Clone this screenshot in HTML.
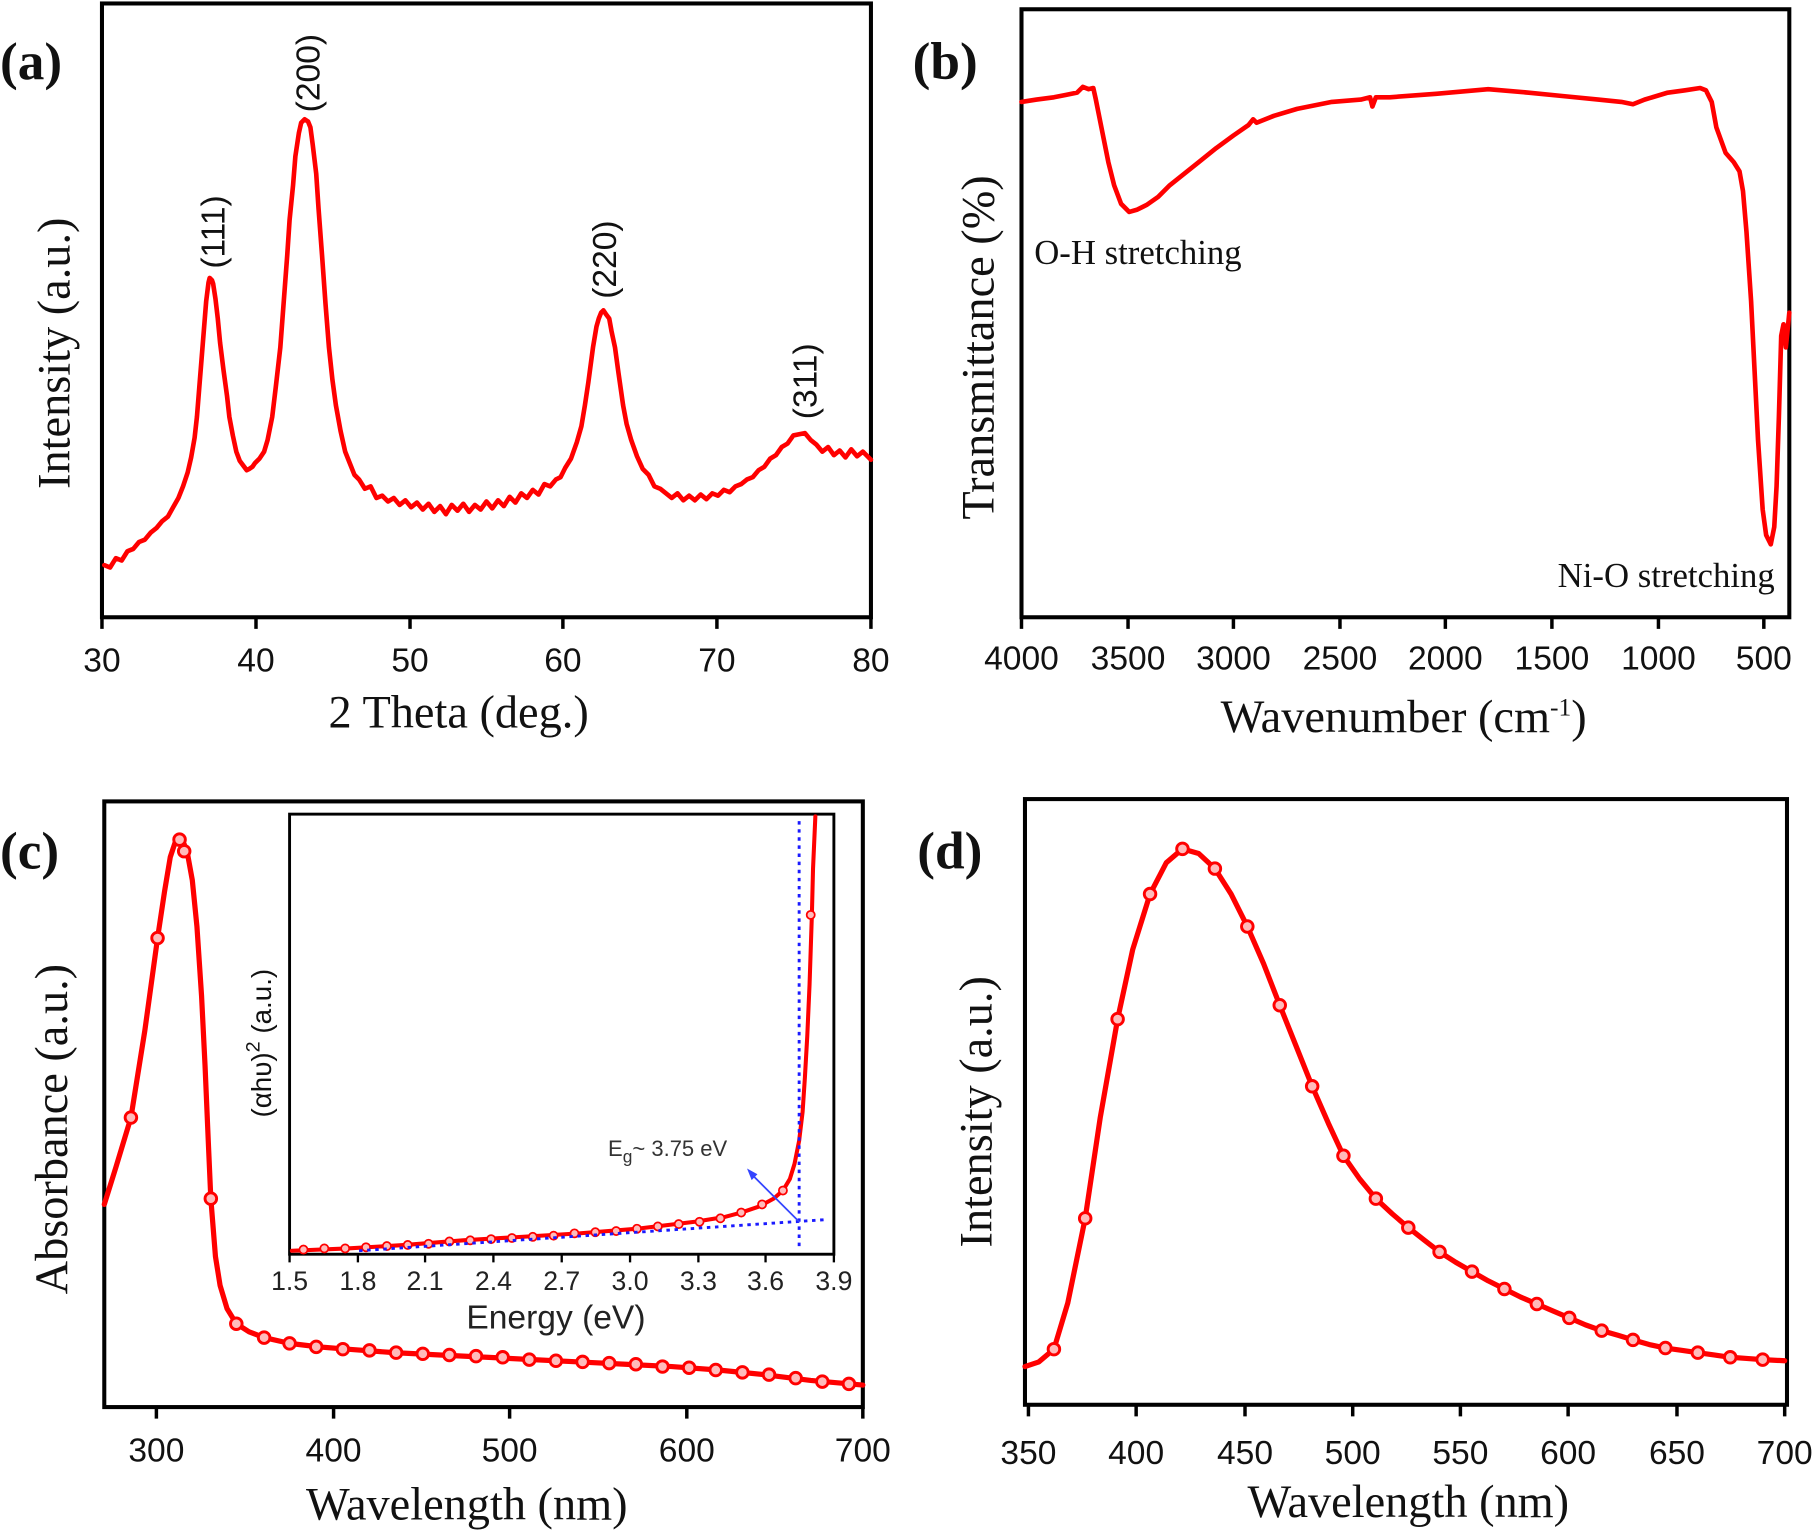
<!DOCTYPE html>
<html><head><meta charset="utf-8"><style>html,body{margin:0;padding:0;background:#fff}svg{display:block}</style></head>
<body>
<svg width="1816" height="1531" viewBox="0 0 1568 1322" xmlns="http://www.w3.org/2000/svg" font-family="Liberation Sans, sans-serif">
<g fill="none" stroke="#000" stroke-width="3.5">
<rect x="88" y="3" width="664" height="530"/>
<rect x="882" y="8" width="663" height="525"/>
<rect x="90" y="692" width="655" height="523"/>
<rect x="885" y="690" width="658" height="523"/>
<rect x="250" y="703" width="470" height="380" stroke-width="2.5"/>
</g>
<path stroke="#000" stroke-width="3" d="M88,533v10M221,533v10M354,533v10M486,533v10M619,533v10M752,533v10
M882,533v10M974,533v10M1065,533v10M1157,533v10M1248,533v10M1340,533v10M1432,533v10M1523,533v10
M135,1215v10M288,1215v10M440,1215v10M593,1215v10M745,1215v10
M888,1213v10M981,1213v10M1075,1213v10M1168,1213v10M1261,1213v10M1354,1213v10M1448,1213v10M1541,1213v10"/>
<path stroke="#000" stroke-width="2" d="M250,1083v7M309,1083v7M367,1083v7M426,1083v7M485,1083v7M544,1083v7M603,1083v7M661,1083v7M720,1083v7"/>
<g font-size="29" fill="#111" text-anchor="middle">
<text x="88" y="580">30</text><text x="221" y="580">40</text><text x="354" y="580">50</text><text x="486" y="580">60</text><text x="619" y="580">70</text><text x="752" y="580">80</text>
<text x="882" y="578">4000</text><text x="974" y="578">3500</text><text x="1065" y="578">3000</text><text x="1157" y="578">2500</text><text x="1248" y="578">2000</text><text x="1340" y="578">1500</text><text x="1432" y="578">1000</text><text x="1523" y="578">500</text>
<text x="135" y="1262">300</text><text x="288" y="1262">400</text><text x="440" y="1262">500</text><text x="593" y="1262">600</text><text x="745" y="1262">700</text>
<text x="888" y="1264">350</text><text x="981" y="1264">400</text><text x="1075" y="1264">450</text><text x="1168" y="1264">500</text><text x="1261" y="1264">550</text><text x="1354" y="1264">600</text><text x="1448" y="1264">650</text><text x="1541" y="1264">700</text>
</g>
<g font-size="23" fill="#222" text-anchor="middle">
<text x="250" y="1114">1.5</text><text x="309" y="1114">1.8</text><text x="367" y="1114">2.1</text><text x="426" y="1114">2.4</text><text x="485" y="1114">2.7</text><text x="544" y="1114">3.0</text><text x="603" y="1114">3.3</text><text x="661" y="1114">3.6</text><text x="720" y="1114">3.9</text>
<text x="480" y="1147" font-size="29">Energy (eV)</text>
</g>
<g font-family="Liberation Serif, serif" fill="#111" font-size="40">
<text x="0" y="68" font-weight="bold" font-size="46">(a)</text>
<text x="788" y="68" font-weight="bold" font-size="46">(b)</text>
<text x="0" y="750" font-weight="bold" font-size="46">(c)</text>
<text x="792" y="750" font-weight="bold" font-size="46">(d)</text>
<text x="396" y="628" text-anchor="middle">2 Theta (deg.)</text>
<text x="1212" y="632" text-anchor="middle">Wavenumber (cm<tspan dy="-14" font-size="22">-1</tspan><tspan dy="14">)</tspan></text>
<text x="403" y="1312" text-anchor="middle">Wavelength (nm)</text>
<text x="1216" y="1310" text-anchor="middle">Wavelength (nm)</text>
<text transform="translate(60,305) rotate(-90)" text-anchor="middle">Intensity (a.u.)</text>
<text transform="translate(858,300) rotate(-90)" text-anchor="middle">Transmittance (%)</text>
<text transform="translate(58,975) rotate(-90)" text-anchor="middle">Absorbance (a.u.)</text>
<text transform="translate(856,960) rotate(-90)" text-anchor="middle">Intensity (a.u.)</text>
<text x="893" y="228" font-size="30">O-H stretching</text>
<text x="1345" y="507" font-size="30">Ni-O stretching</text>
</g>
<g font-size="29" fill="#111">
<text transform="translate(194,232) rotate(-90)">(111)</text>
<text transform="translate(276,97) rotate(-90)">(200)</text>
<text transform="translate(532,258) rotate(-90)">(220)</text>
<text transform="translate(705,362) rotate(-90)">(311)</text>
<text transform="translate(234,965) rotate(-90)" font-size="24">(αhυ)<tspan dy="-10" font-size="17">2</tspan><tspan dy="10"> (a.u.)</tspan></text>
<text x="525" y="998" font-size="19" fill="#333">E<tspan dy="6" font-size="15">g</tspan><tspan dy="-6">~ 3.75 eV</tspan></text>
</g>
<g fill="none" stroke="#f00" stroke-width="4" stroke-linejoin="round" stroke-linecap="round">
<polyline points="90,488 95,490 100,482 105,484 110,476 115,474 120,468 125,466 130,460 135,456 140,450 145,446 150,437 154,430 158,420 162,408 165,395 168,378 170,360 172,335 174,310 176,285 178,260 180,244 181,240 183,242 184,245 186,258 188,275 190,296 193,320 196,342 198,360 201,376 204,390 207,398 210,402 213,406 215,405 218,403 220,400 224,396 228,390 231,380 235,360 238,335 242,300 245,260 248,220 250,190 253,160 255,135 258,115 260,106 263,103 266,105 268,110 270,125 273,150 275,180 278,220 281,262 284,300 287,328 290,350 294,372 298,390 302,400 306,410 310,414 315,422 320,420 325,430 330,428 335,433 340,430 345,436 350,432 355,438 360,434 365,440 370,435 375,442 380,437 385,444 390,436 395,441 400,435 405,442 410,436 415,440 420,433 425,439 430,432 435,437 440,429 445,434 450,426 455,430 460,423 465,427 470,418 475,420 480,414 484,412 488,404 493,396 498,382 502,368 505,350 508,330 512,300 515,282 517,275 519,270 521,268 523,271 526,275 528,286 531,300 534,322 538,350 541,366 545,380 550,394 555,405 560,410 565,420 570,422 575,426 580,430 585,426 590,432 595,428 600,432 605,427 610,431 615,426 620,428 625,423 630,425 635,420 640,418 645,414 650,412 655,406 660,403 665,396 670,393 675,386 680,383 685,376 690,375 695,374 700,380 705,384 710,390 715,386 720,393 725,389 730,395 735,388 740,394 745,390 752,397"/>
<polyline points="882,88 895,86 910,84 920,82 930,80 935,75 940,77 944,76 946,85 949,100 952,115 957,140 962,160 968,176 975,183 982,181 990,177 1000,170 1010,160 1020,152 1035,140 1050,128 1065,117 1078,108 1082,103 1085,106 1100,100 1120,94 1150,88 1175,86 1183,84 1185,92 1188,84 1200,84 1240,81 1285,77 1320,80 1350,83 1380,86 1400,88 1410,90 1420,86 1440,80 1455,78 1468,76 1473,78 1478,88 1482,110 1490,132 1497,140 1502,148 1505,165 1508,200 1512,260 1515,320 1518,380 1522,440 1525,462 1529,470 1532,455 1534,420 1536,360 1538,290 1540,280 1542,300 1545,270"/>
<polyline stroke-width="4.5" points="90,1040 100,1008 113,965 125,890 136,810 142,770 147,740 151,728 155,725 159,729 162,738 166,760 170,800 174,860 177,920 180,990 182,1035 186,1085 190,1110 196,1130 204,1143 215,1150 228,1155 250,1160 275,1163 300,1165 340,1168 380,1170 420,1172 460,1174 500,1176 540,1178 580,1180 620,1183 660,1187 700,1192 745,1196"/>
<polyline stroke-width="3.5" points="252,1080 300,1078 350,1075 400,1071 450,1068 500,1065 550,1061 600,1055 625,1051 640,1047 655,1042 668,1035 676,1028 682,1018 686,1005 690,985 693,960 695,930 697,895 699,850 700,820 701,790 702,750 704,705"/>
<polyline stroke-width="4.5" points="885,1180 897,1176 910,1165 922,1125 937,1052 950,965 965,880 978,820 993,772 1007,745 1021,733 1035,737 1049,750 1063,772 1077,800 1091,832 1105,868 1119,903 1133,938 1147,970 1160,998 1174,1018 1188,1035 1202,1048 1216,1060 1230,1071 1243,1081 1257,1090 1271,1098 1285,1106 1299,1113 1313,1120 1327,1126 1341,1132 1355,1138 1369,1144 1383,1149 1397,1153 1410,1157 1424,1161 1438,1164 1452,1166 1466,1168 1480,1170 1494,1172 1508,1173 1522,1174 1541,1175"/>
</g>
<g fill="#fbb" stroke="#f00" stroke-width="2.5">
<circle cx="113" cy="965" r="5"/><circle cx="136" cy="810" r="5"/><circle cx="155" cy="725" r="5"/><circle cx="159" cy="735" r="5"/><circle cx="182" cy="1035" r="5"/><circle cx="204" cy="1143" r="5"/><circle cx="228" cy="1155" r="5"/><circle cx="250" cy="1160" r="5"/><circle cx="273" cy="1163" r="5"/><circle cx="296" cy="1165" r="5"/><circle cx="319" cy="1166" r="5"/><circle cx="342" cy="1168" r="5"/><circle cx="365" cy="1169" r="5"/><circle cx="388" cy="1170" r="5"/><circle cx="411" cy="1171" r="5"/><circle cx="434" cy="1172" r="5"/><circle cx="457" cy="1174" r="5"/><circle cx="480" cy="1175" r="5"/><circle cx="503" cy="1176" r="5"/><circle cx="526" cy="1177" r="5"/><circle cx="549" cy="1178" r="5"/><circle cx="572" cy="1180" r="5"/><circle cx="595" cy="1181" r="5"/><circle cx="618" cy="1183" r="5"/><circle cx="641" cy="1185" r="5"/><circle cx="664" cy="1187" r="5"/><circle cx="687" cy="1190" r="5"/><circle cx="710" cy="1193" r="5"/><circle cx="733" cy="1195" r="5"/>
<circle cx="910" cy="1165" r="5"/><circle cx="937" cy="1052" r="5"/><circle cx="965" cy="880" r="5"/><circle cx="993" cy="772" r="5"/><circle cx="1021" cy="733" r="5"/><circle cx="1049" cy="750" r="5"/><circle cx="1077" cy="800" r="5"/><circle cx="1105" cy="868" r="5"/><circle cx="1133" cy="938" r="5"/><circle cx="1160" cy="998" r="5"/><circle cx="1188" cy="1035" r="5"/><circle cx="1216" cy="1060" r="5"/><circle cx="1243" cy="1081" r="5"/><circle cx="1271" cy="1098" r="5"/><circle cx="1299" cy="1113" r="5"/><circle cx="1327" cy="1126" r="5"/><circle cx="1355" cy="1138" r="5"/><circle cx="1383" cy="1149" r="5"/><circle cx="1410" cy="1157" r="5"/><circle cx="1438" cy="1164" r="5"/><circle cx="1466" cy="1168" r="5"/><circle cx="1494" cy="1172" r="5"/><circle cx="1522" cy="1174" r="5"/>
</g>
<g fill="#fbb" stroke="#f00" stroke-width="1.5">
<circle cx="262" cy="1079" r="3.5"/><circle cx="280" cy="1078" r="3.5"/><circle cx="298" cy="1078" r="3.5"/><circle cx="316" cy="1077" r="3.5"/><circle cx="334" cy="1076" r="3.5"/><circle cx="352" cy="1075" r="3.5"/><circle cx="370" cy="1074" r="3.5"/><circle cx="388" cy="1072" r="3.5"/><circle cx="406" cy="1071" r="3.5"/><circle cx="424" cy="1070" r="3.5"/><circle cx="442" cy="1069" r="3.5"/><circle cx="460" cy="1068" r="3.5"/><circle cx="478" cy="1067" r="3.5"/><circle cx="496" cy="1065" r="3.5"/><circle cx="514" cy="1064" r="3.5"/><circle cx="532" cy="1063" r="3.5"/><circle cx="550" cy="1061" r="3.5"/><circle cx="568" cy="1059" r="3.5"/><circle cx="586" cy="1057" r="3.5"/><circle cx="604" cy="1055" r="3.5"/><circle cx="622" cy="1052" r="3.5"/><circle cx="640" cy="1047" r="3.5"/><circle cx="658" cy="1040" r="3.5"/><circle cx="676" cy="1028" r="3.5"/><circle cx="700" cy="790" r="3.5"/>
</g>
<g stroke="#1a1aff" stroke-width="2.5" stroke-dasharray="3,4" fill="none">
<line x1="310" y1="1080" x2="715" y2="1053"/>
<line x1="690" y1="1076" x2="690" y2="705"/>
</g>
<line x1="690" y1="1055" x2="648" y2="1013" stroke="#3344ff" stroke-width="1.5"/>
<polygon points="645,1009 654,1014 649,1019" fill="#3344ff"/>
</svg>
</body></html>
